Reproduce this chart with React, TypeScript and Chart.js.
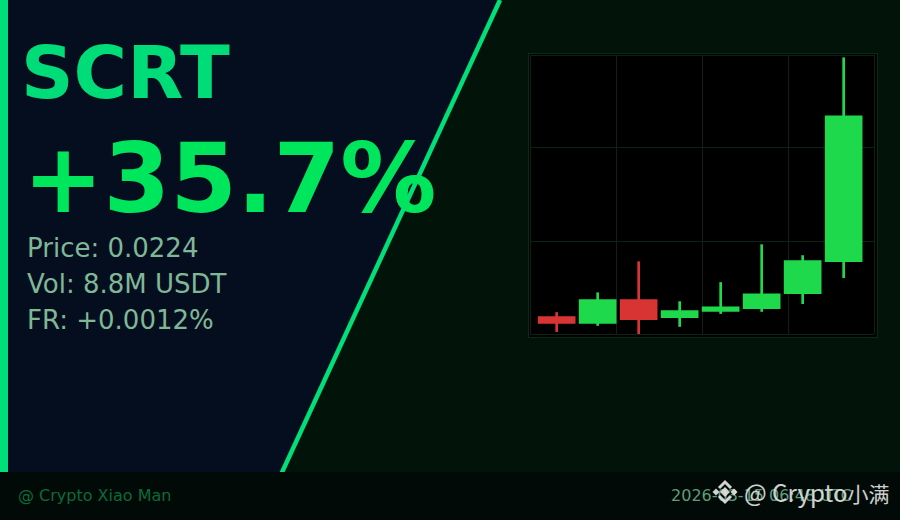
import React, { useEffect, useRef } from "react";
import { Chart, registerables } from "chart.js";

Chart.register(...registerables);

const symbol = "SCRT";
const changeText = "+35.7%";
const infoLines = ["Price: 0.0224", "Vol: 8.8M USDT", "FR: +0.0012%"];
const footerLeft = "@ Crypto Xiao Man";
const footerDate = "2026-03-15 06:48 UTC";
const watermarkLatin = "@ Crypto";
const watermarkCjk = "小满";

const candleIndex = [0, 1, 2, 3, 4, 5, 6, 7];
const opens = [0.01651, 0.01631, 0.01701, 0.01648, 0.01666, 0.01674, 0.01718, 0.01812];
const closes = [0.01631, 0.01701, 0.01642, 0.01669, 0.0168, 0.01718, 0.01815, 0.0224];
const highs = [0.01663, 0.01721, 0.01812, 0.01695, 0.01751, 0.01862, 0.0183, 0.0241];
const lows = [0.01607, 0.01625, 0.01601, 0.01622, 0.0166, 0.01666, 0.01689, 0.01765];

const UP = "#1fd94c";
const DOWN = "#d83434";
const GRID = "#0a2314";

function CandleChart() {
  const ref = useRef<HTMLCanvasElement | null>(null);
  useEffect(() => {
    if (!ref.current) return;
    const colors = candleIndex.map((i) => (closes[i] >= opens[i] ? UP : DOWN));
    const evenTicks = (n: number) => (scale: any) => {
      const min = scale.min;
      const max = scale.max;
      const t = [];
      for (let k = 0; k <= n; k++) t.push({ value: min + (k * (max - min)) / n });
      scale.ticks = t;
    };
    const chart = new Chart(ref.current, {
      type: "bar",
      data: {
        datasets: [
          {
            data: candleIndex.map((i) => ({ x: i, y: [opens[i], closes[i]] })) as any,
            backgroundColor: colors,
            barThickness: 37,
            grouped: false,
            order: 0,
            borderWidth: 0,
          },
          {
            data: candleIndex.map((i) => ({ x: i, y: [lows[i], highs[i]] })) as any,
            backgroundColor: colors,
            barThickness: 2,
            grouped: false,
            order: 1,
            borderWidth: 0,
          },
        ],
      },
      options: {
        animation: false,
        responsive: false,
        devicePixelRatio: 1,
        layout: { padding: { left: 1, top: 1, right: 3, bottom: 3 } },
        plugins: { legend: { display: false }, tooltip: { enabled: false } },
        scales: {
          x: {
            type: "linear",
            min: -0.65,
            max: 7.74,
            offset: false,
            afterBuildTicks: evenTicks(4),
            ticks: { display: false },
            grid: { color: GRID, drawTicks: false, lineWidth: 1, offset: false },
            border: { display: false },
          },
          y: {
            type: "linear",
            min: 0.016,
            max: 0.02418,
            afterBuildTicks: evenTicks(3),
            ticks: { display: false },
            grid: { color: GRID, drawTicks: false, lineWidth: 1 },
            border: { display: false },
          },
        },
      },
    });
    return () => chart.destroy();
  }, []);
  return (
    <div
      style={{
        position: "absolute",
        left: 528,
        top: 53,
        width: 348,
        height: 283,
        border: "1px solid #0c2817",
        background: "#000",
      }}
    >
      <canvas ref={ref} width={348} height={283} style={{ display: "block", width: 348, height: 283 }} />
    </div>
  );
}

export default function App() {
  return (
    <div
      style={{
        position: "absolute",
        left: 0,
        top: 0,
        width: 900,
        height: 520,
        overflow: "hidden",
        background: "#02140a",
      }}
    >
      <svg width={900} height={520} style={{ position: "absolute", left: 0, top: 0 }}>
        <polygon points="0,0 500,0 260,520 0,520" fill="#050e1e" />
        <line x1={500} y1={0} x2={260} y2={520} stroke="#00e07a" strokeWidth={4.5} />
        <rect x={0} y={0} width={8} height={520} fill="#00e07a" />
        <text x={21} y={98} fontFamily="DejaVu Sans" fontWeight="bold" fontSize={73} fill="#00dc78">
          {symbol}
        </text>
        <text x={23} y={212} fontFamily="DejaVu Sans" fontWeight="bold" fontSize={96} fill="#00e65c">
          {changeText}
        </text>
        {infoLines.map((t, i) => (
          <text key={i} x={27} y={257 + i * 36} fontFamily="DejaVu Sans" fontSize={26} fill="#7fb896">
            {t}
          </text>
        ))}
        <rect x={0} y={472} width={900} height={48} fill="#010a06" />
        <text x={18} y={501} fontFamily="DejaVu Sans" fontSize={16} fill="#0c6a3a">
          {footerLeft}
        </text>
        <text x={852} y={501} textAnchor="end" fontFamily="DejaVu Sans" fontSize={16} fill="#5e9c7c">
          {footerDate}
        </text>
        <g transform="translate(725,492)" fill="#e4e4e4" stroke="none" opacity={0.92}>
          <rect x={-3.5} y={-3.5} width={7} height={7} transform="rotate(45)" />
          <rect x={-2.5} y={-2.5} width={5} height={5} transform="translate(-9,0) rotate(45)" />
          <rect x={-2.5} y={-2.5} width={5} height={5} transform="translate(9,0) rotate(45)" />
          <polyline points="-6,-4 0,-10 6,-4" fill="none" stroke="#e4e4e4" strokeWidth={3} />
          <polyline points="-6,4 0,10 6,4" fill="none" stroke="#e4e4e4" strokeWidth={3} />
        </g>
        <text x={744} y={502} fontFamily="Noto Sans CJK SC" fill="#e0e0e0" opacity={0.92}>
          <tspan fontSize={24}>{watermarkLatin}</tspan>
          <tspan fontSize={21}>{watermarkCjk}</tspan>
        </text>
      </svg>
      <CandleChart />
    </div>
  );
}
